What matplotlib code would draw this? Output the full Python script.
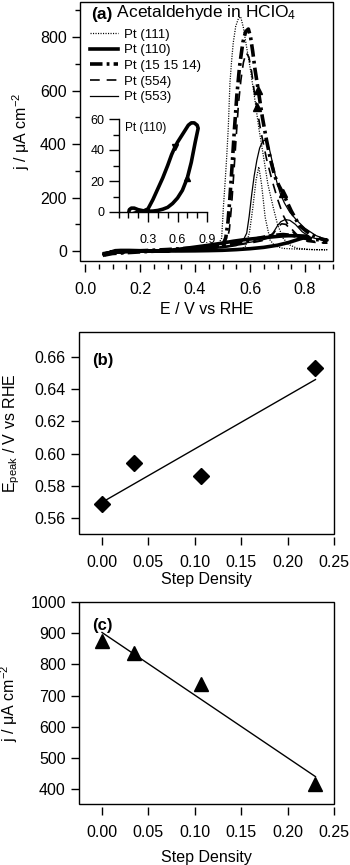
import matplotlib
matplotlib.use('Agg')
import matplotlib.pyplot as plt
import numpy as np
from matplotlib.lines import Line2D
from matplotlib.patches import Rectangle
from matplotlib.ticker import MultipleLocator, FormatStrFormatter

plt.rcParams['font.family'] = ['Liberation Sans', 'DejaVu Sans']
plt.rcParams['mathtext.fontset'] = 'custom'
plt.rcParams['mathtext.rm'] = 'Liberation Sans'
plt.rcParams['mathtext.it'] = 'Liberation Sans:italic'
plt.rcParams['mathtext.bf'] = 'Liberation Sans:bold'
plt.rcParams['lines.scale_dashes'] = False

# ---------------- data: panel (a) cyclic voltammograms ----------------
labels = ['Pt (111)', 'Pt (110)', 'Pt (15 15 14)', 'Pt (554)', 'Pt (553)']

E111 = [0.07, 0.10, 0.20, 0.30, 0.40, 0.45, 0.48, 0.497, 0.503, 0.509, 0.515, 0.521, 0.527, 0.533,
        0.539, 0.548, 0.558, 0.566, 0.576, 0.588, 0.60, 0.618, 0.632, 0.648, 0.665, 0.685, 0.70,
        0.72, 0.74, 0.77, 0.82, 0.88,
        0.84, 0.78, 0.72, 0.69, 0.673, 0.655, 0.642, 0.632, 0.622, 0.61, 0.598, 0.585, 0.57,
        0.50, 0.40, 0.30, 0.20, 0.10, 0.07]
j111 = [-14, -8, -3, 0, 3, 6, 15, 49, 161, 250, 348, 460, 628, 710,
        778, 840, 870, 876, 835, 760, 688, 564, 460, 360, 250, 161, 100,
        49, 25, 11, 6, 5,
        5, 7, 10, 20, 41, 127, 250, 315, 265, 160, 70, 20, 8,
        4, 2, 0, -2, -6, -10]

E110 = [0.07, 0.09, 0.11, 0.13, 0.16, 0.20, 0.25, 0.30, 0.35, 0.40, 0.45, 0.50, 0.55, 0.60, 0.65,
        0.70, 0.74, 0.78, 0.81,
        0.80, 0.77, 0.74, 0.71, 0.68, 0.64, 0.60, 0.575, 0.54, 0.50, 0.45, 0.40, 0.35, 0.30,
        0.25, 0.20, 0.15, 0.10, 0.07]
j110 = [-14, -5, 1.5, 2.5, 2.5, 1.5, 0.8, 0.5, 0.6, 1.0, 1.8, 3, 5.5, 9, 14,
        22, 32, 45, 54,
        56, 57.5, 57.5, 56, 53, 49, 45, 42, 37, 30, 22, 15, 8, 2,
        0.5, 0, -1, -4, -9]

E151514 = [0.07, 0.10, 0.20, 0.30, 0.40, 0.45, 0.50, 0.512, 0.52, 0.527, 0.535, 0.543, 0.552, 0.562,
           0.574, 0.584, 0.594, 0.602, 0.61, 0.618, 0.63, 0.645, 0.66, 0.675, 0.69, 0.705, 0.72,
           0.75, 0.78, 0.82, 0.86, 0.88,
           0.84, 0.80, 0.76, 0.72, 0.68, 0.64, 0.60, 0.55, 0.50, 0.40, 0.30, 0.20, 0.10, 0.07]
j151514 = [-15, -9, -3, 2, 6, 10, 20, 50, 110, 200, 320, 450, 580, 690,
           780, 820, 830, 800, 745, 680, 602, 500, 415, 340, 280, 245, 216,
           150, 95, 62, 45, 41,
           43, 48, 58, 62, 58, 50, 40, 28, 20, 12, 6, 1, -5, -10]

E554 = [0.07, 0.10, 0.20, 0.30, 0.40, 0.45, 0.50, 0.515, 0.525, 0.533, 0.541, 0.55, 0.558, 0.567,
        0.576, 0.586, 0.596, 0.606, 0.615, 0.624, 0.64, 0.66, 0.68, 0.70, 0.72, 0.74, 0.77, 0.81,
        0.85, 0.88,
        0.85, 0.81, 0.77, 0.745, 0.73, 0.715, 0.70, 0.685, 0.665, 0.64, 0.60, 0.55, 0.50, 0.40,
        0.30, 0.20, 0.10, 0.07]
j554 = [-13, -8, -3, 1, 5, 9, 16, 35, 80, 170, 290, 430, 550, 640,
        705, 742, 725, 670, 600, 540, 445, 345, 265, 195, 135, 95, 62, 42,
        33, 30,
        31, 36, 55, 85, 100, 102, 90, 65, 45, 38, 30, 22, 15, 9,
        4, 0, -5, -9]

E553 = [0.07, 0.10, 0.20, 0.30, 0.40, 0.50, 0.55, 0.575, 0.588, 0.597, 0.606, 0.615, 0.625, 0.635,
        0.645, 0.653, 0.662, 0.672, 0.684, 0.697, 0.71, 0.725, 0.745, 0.77, 0.80, 0.84, 0.88,
        0.85, 0.82, 0.79, 0.765, 0.745, 0.728, 0.712, 0.70, 0.685, 0.665, 0.64, 0.60, 0.55, 0.50,
        0.40, 0.30, 0.20, 0.10, 0.07]
j553 = [-12, -7, -2, 2, 6, 12, 20, 40, 67, 130, 210, 280, 340, 385,
        408, 415, 405, 375, 320, 260, 215, 180, 145, 115, 85, 58, 42,
        44, 52, 72, 100, 115, 118, 110, 95, 70, 48, 40, 33, 25, 17,
        10, 5, 1, -4, -8]

# ---------------- data: panels (b) and (c) ----------------
step_density = [0.0, 0.034, 0.107, 0.23]
E_peak = [0.569, 0.594, 0.586, 0.653]
j_peak = [874, 835, 738, 416]

# ---------------- figure ----------------
fig = plt.figure(figsize=(3.5, 8.65), dpi=100)


def igor_frame(ax, off=2.2):
    for s in ax.spines.values():
        s.set_visible(False)
    ax.spines['bottom'].set_position(('outward', off))
    ax.add_patch(Rectangle((0, 0), 1, 1, transform=ax.transAxes, fill=False,
                           lw=1.0, ec='black', clip_on=False, zorder=6))
    ax.tick_params(which='major', direction='out', width=1.0, length=5.5,
                   labelsize=11.5, colors='black')
    ax.tick_params(which='minor', direction='out', width=1.0, length=3.5)
    ax.tick_params(axis='x', pad=7.5)
    ax.tick_params(axis='y', pad=4)
    ax.tick_params(top=False, right=False)


# ---- panel (a)
ax = fig.add_axes([80/350, 1-261/865, 253/350, 259/865])
igor_frame(ax)
ax.set_xlim(-0.0182, 0.9018)
ax.set_ylim(-37, 931)
ax.xaxis.set_major_locator(MultipleLocator(0.2))
ax.xaxis.set_minor_locator(MultipleLocator(0.05))
ax.xaxis.set_major_formatter(FormatStrFormatter('%.1f'))
ax.yaxis.set_major_locator(MultipleLocator(200))
ax.yaxis.set_minor_locator(MultipleLocator(100))

st111 = dict(color='black', lw=0.9, ls=(0, (0.8, 1.0)))
st110 = dict(color='black', lw=2.6, ls='-')
st1515 = dict(color='black', lw=2.6, ls=(0, (9, 3, 2, 3)))
st554 = dict(color='black', lw=1.2, ls=(0, (7, 5)))
st553 = dict(color='black', lw=0.9, ls='-')

ax.plot(E111, j111, **st111)
ax.plot(E110, j110, **st110)
ax.plot(E151514, j151514, **st1515)
ax.plot(E151514, j151514, ls='none', marker='^', ms=6, color='black',
        markevery=[20, 26])
ax.plot(E554, j554, **st554)
ax.plot(E554, j554, ls='none', marker='^', ms=6, color='black', markevery=[19])
ax.plot(E553, j553, **st553)

handles = [Line2D([], [], **s) for s in (st111, st110, st1515, st554, st553)]
ax.legend(handles, labels, loc='upper left', bbox_to_anchor=(0.0395, 0.898),
          frameon=False, fontsize=9.5, handlelength=2.1, handletextpad=0.45,
          labelspacing=0.26, borderpad=0, borderaxespad=0)

t = ax.text(0.043, 0.95, '(a)', transform=ax.transAxes, fontsize=12.5,
            fontweight='bold', ha='left', va='center')
ax.annotate(' Acetaldehyde in HClO$_4$', xy=(1, 0), xycoords=t,
            fontsize=12.5, ha='left', va='bottom')

ax.set_xlabel('E / V vs RHE', fontsize=11.5)
ax.xaxis.set_label_coords(0.5, -0.158)
ax.set_ylabel('j / μA cm$^{-2}$', fontsize=11.5)
ax.yaxis.set_label_coords(-0.19, 0.5)

# ---- inset
axi = fig.add_axes([118.5/350, 1-212/865, 88.5/350, 93/865])
axi.patch.set_alpha(0)
axi.spines['top'].set_visible(False)
axi.spines['right'].set_visible(False)
axi.spines['left'].set_linewidth(1.0)
axi.spines['bottom'].set_linewidth(1.0)
axi.set_xlim(0, 0.9)
axi.set_ylim(0, 60)
axi.xaxis.set_major_locator(MultipleLocator(0.3))
axi.xaxis.set_minor_locator(MultipleLocator(0.1))
axi.xaxis.set_major_formatter(FormatStrFormatter('%.1f'))
axi.yaxis.set_major_locator(MultipleLocator(20))
axi.yaxis.set_minor_locator(MultipleLocator(10))
axi.tick_params(which='major', direction='out', width=1.0, length=7, labelsize=9)
axi.tick_params(which='minor', direction='out', width=1.0, length=4)
axi.tick_params(axis='x', pad=8.5)
axi.tick_params(axis='y', pad=3)
axi.plot(E110, j110, color='black', lw=2.6)
axi.plot(E110, j110, ls='none', marker='^', ms=5, color='black', markevery=[15])
axi.plot(E110, j110, ls='none', marker='v', ms=5, color='black', markevery=[26])
axi.set_xticks([0.3, 0.6, 0.9])
axi.text(0.073, 0.903, 'Pt (110)', transform=axi.transAxes, fontsize=8.5,
         ha='left', va='center')

# ---- panel (b)
axb = fig.add_axes([79/350, 1-534/865, 255/350, 202/865])
igor_frame(axb)
axb.set_xlim(-0.0248, 0.25)
axb.set_ylim(0.5501, 0.6755)
axb.xaxis.set_major_locator(MultipleLocator(0.05))
axb.xaxis.set_major_formatter(FormatStrFormatter('%.2f'))
axb.yaxis.set_major_locator(MultipleLocator(0.02))
axb.yaxis.set_major_formatter(FormatStrFormatter('%.2f'))
cb = np.polyfit(step_density, E_peak, 1)
xs = np.array([min(step_density), max(step_density)])
axb.plot(xs, np.polyval(cb, xs), color='black', lw=1.0)
axb.plot(step_density, E_peak, ls='none', marker='D', ms=8, color='black')
axb.text(0.051, 0.861, '(b)', transform=axb.transAxes, fontsize=12,
         fontweight='bold', ha='left', va='center')
axb.set_xlabel('Step Density', fontsize=11.5)
axb.xaxis.set_label_coords(0.5, -0.19)
axb.set_ylabel(r'E$_{\mathrm{peak}}$ / V vs RHE', fontsize=11.5)
axb.yaxis.set_label_coords(-0.224, 0.5)

# ---- panel (c)
axc = fig.add_axes([79/350, 1-804/865, 255/350, 202/865])
igor_frame(axc)
axc.set_xlim(-0.0248, 0.25)
axc.set_ylim(352, 1000)
axc.xaxis.set_major_locator(MultipleLocator(0.05))
axc.xaxis.set_major_formatter(FormatStrFormatter('%.2f'))
axc.yaxis.set_major_locator(MultipleLocator(100))
cc = np.polyfit(step_density, j_peak, 1)
axc.plot(xs, np.polyval(cc, xs), color='black', lw=1.0)
axc.plot(step_density, j_peak, ls='none', marker='^', ms=10, color='black')
axc.text(0.051, 0.886, '(c)', transform=axc.transAxes, fontsize=12,
         fontweight='bold', ha='left', va='center')
axc.set_xlabel('Step Density', fontsize=11.5)
axc.xaxis.set_label_coords(0.5, -0.228)
axc.set_ylabel('j / μA cm$^{-2}$', fontsize=11.5)
axc.yaxis.set_label_coords(-0.231, 0.5)

fig.savefig('out.png', dpi=100)
